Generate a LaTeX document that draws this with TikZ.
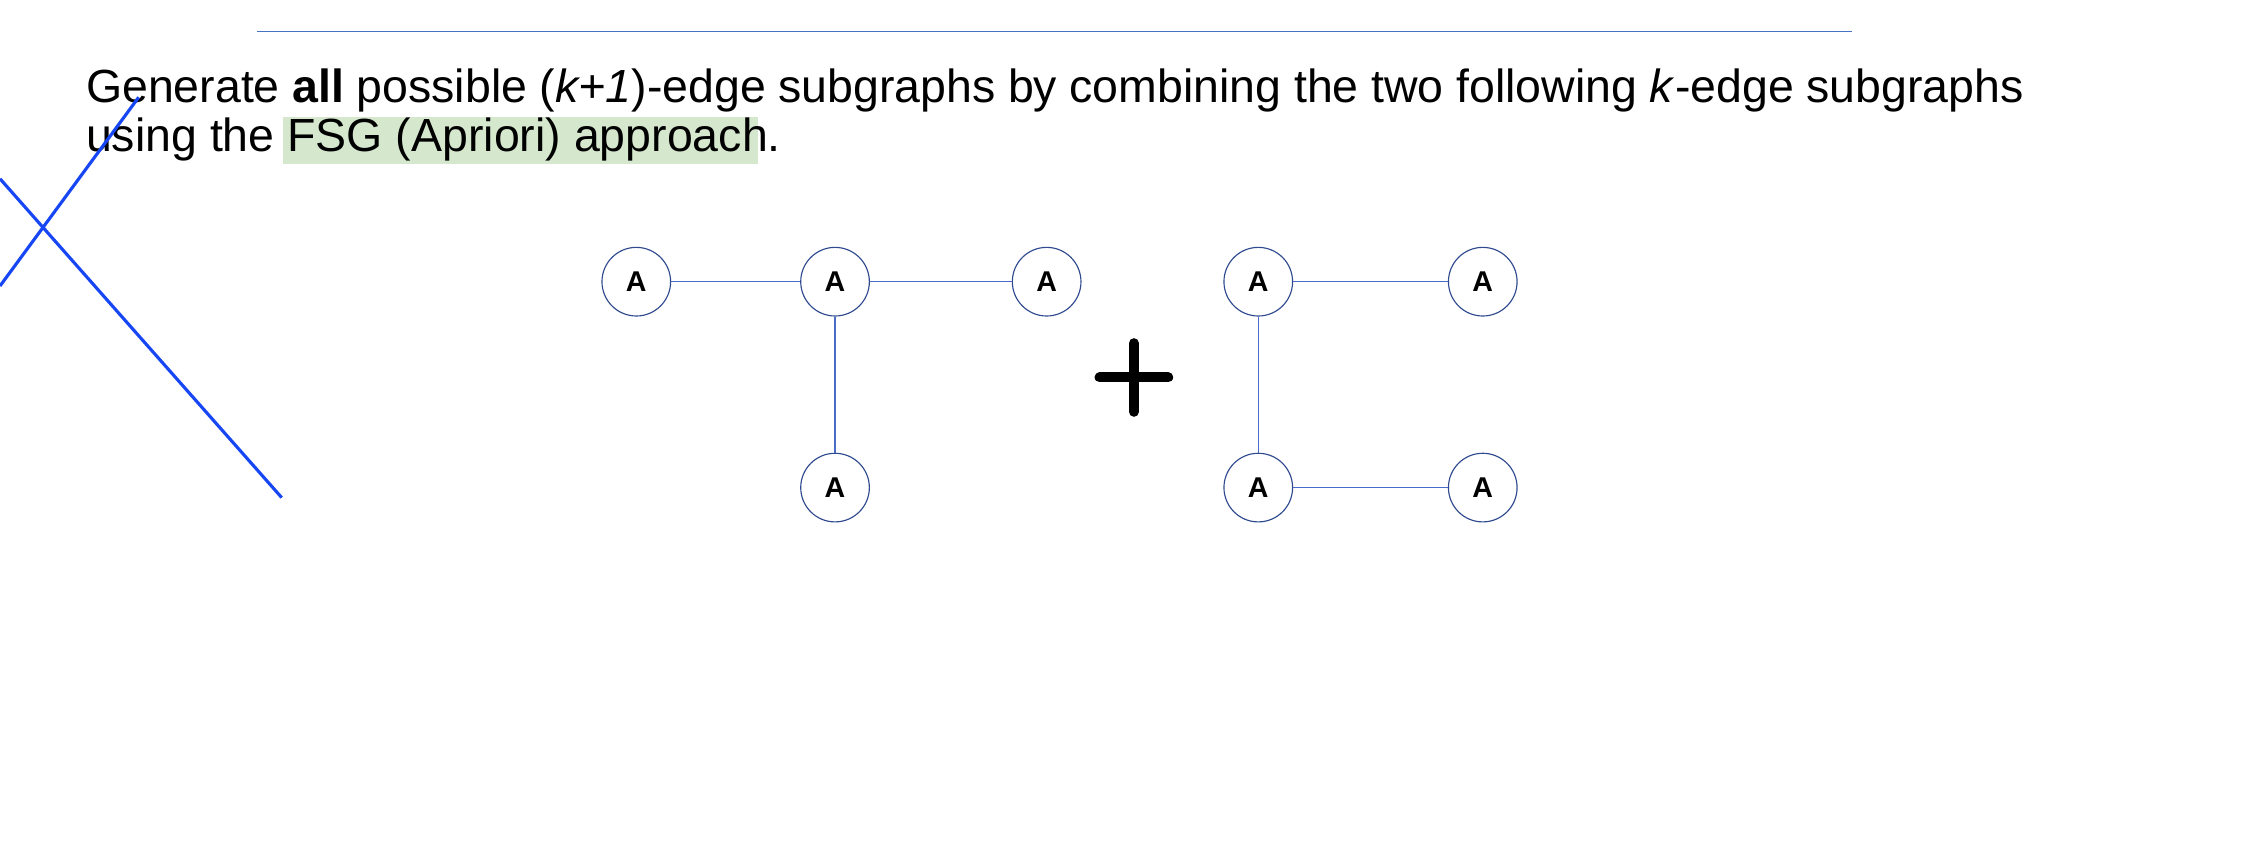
\documentclass[tikz,border=0pt]{standalone}
\usepackage{fontspec}
\setmainfont{Liberation Sans}
\definecolor{topblue}{HTML}{4472C4}
\definecolor{penblue}{HTML}{1746F5}
\definecolor{edgeblue}{HTML}{4A6BC8}
\definecolor{circblue}{HTML}{2F4A8F}
\definecolor{hl}{HTML}{D5E8CE}
\begin{document}
\begin{tikzpicture}[x=1pt,y=-1pt,
  vert/.style={circle,draw=circblue,line width=0.8pt,fill=white,minimum size=48pt,inner sep=0pt,font=\fontsize{20}{22}\selectfont\bfseries},
  edge/.style={draw=edgeblue,line width=0.8pt},
  txt/.style={anchor=base west,inner sep=0pt,font=\fontsize{32.5}{36}\selectfont}]
\useasboundingbox (0,0) rectangle (1568,603);
\draw[topblue,line width=1.3pt] (180,22) -- (1295,22);
\fill[hl] (198,82) rectangle (530,115);
\node[txt,text width=1355pt,align=justify] (l1) at (60,72) {Generate \textbf{all} possible (\textit{k+1})-edge subgraphs by combining the two following \textit{k}-edge subgraphs\\[-2pt]using the FSG (Apriori) approach.};
\node[vert] (a1) at (445,197) {A};
\node[vert] (a2) at (584,197) {A};
\node[vert] (a3) at (732,197) {A};
\node[vert] (a4) at (584,341) {A};
\node[vert] (b1) at (880,197) {A};
\node[vert] (b2) at (1037,197) {A};
\node[vert] (b3) at (880,341) {A};
\node[vert] (b4) at (1037,341) {A};
\draw[edge] (a1) -- (a2); \draw[edge] (a2) -- (a3); \draw[edge] (a2) -- (a4);
\draw[edge] (b1) -- (b2); \draw[edge] (b1) -- (b3); \draw[edge] (b3) -- (b4);
\draw[line width=7pt,line cap=round] (769,264) -- (817,264);
\draw[line width=7pt,line cap=round] (793,240) -- (793,288);
\draw[penblue,line width=2.2pt] (97,68) -- (0,200);
\draw[penblue,line width=2.2pt] (0,125) -- (197,348);
\end{tikzpicture}
\end{document}
